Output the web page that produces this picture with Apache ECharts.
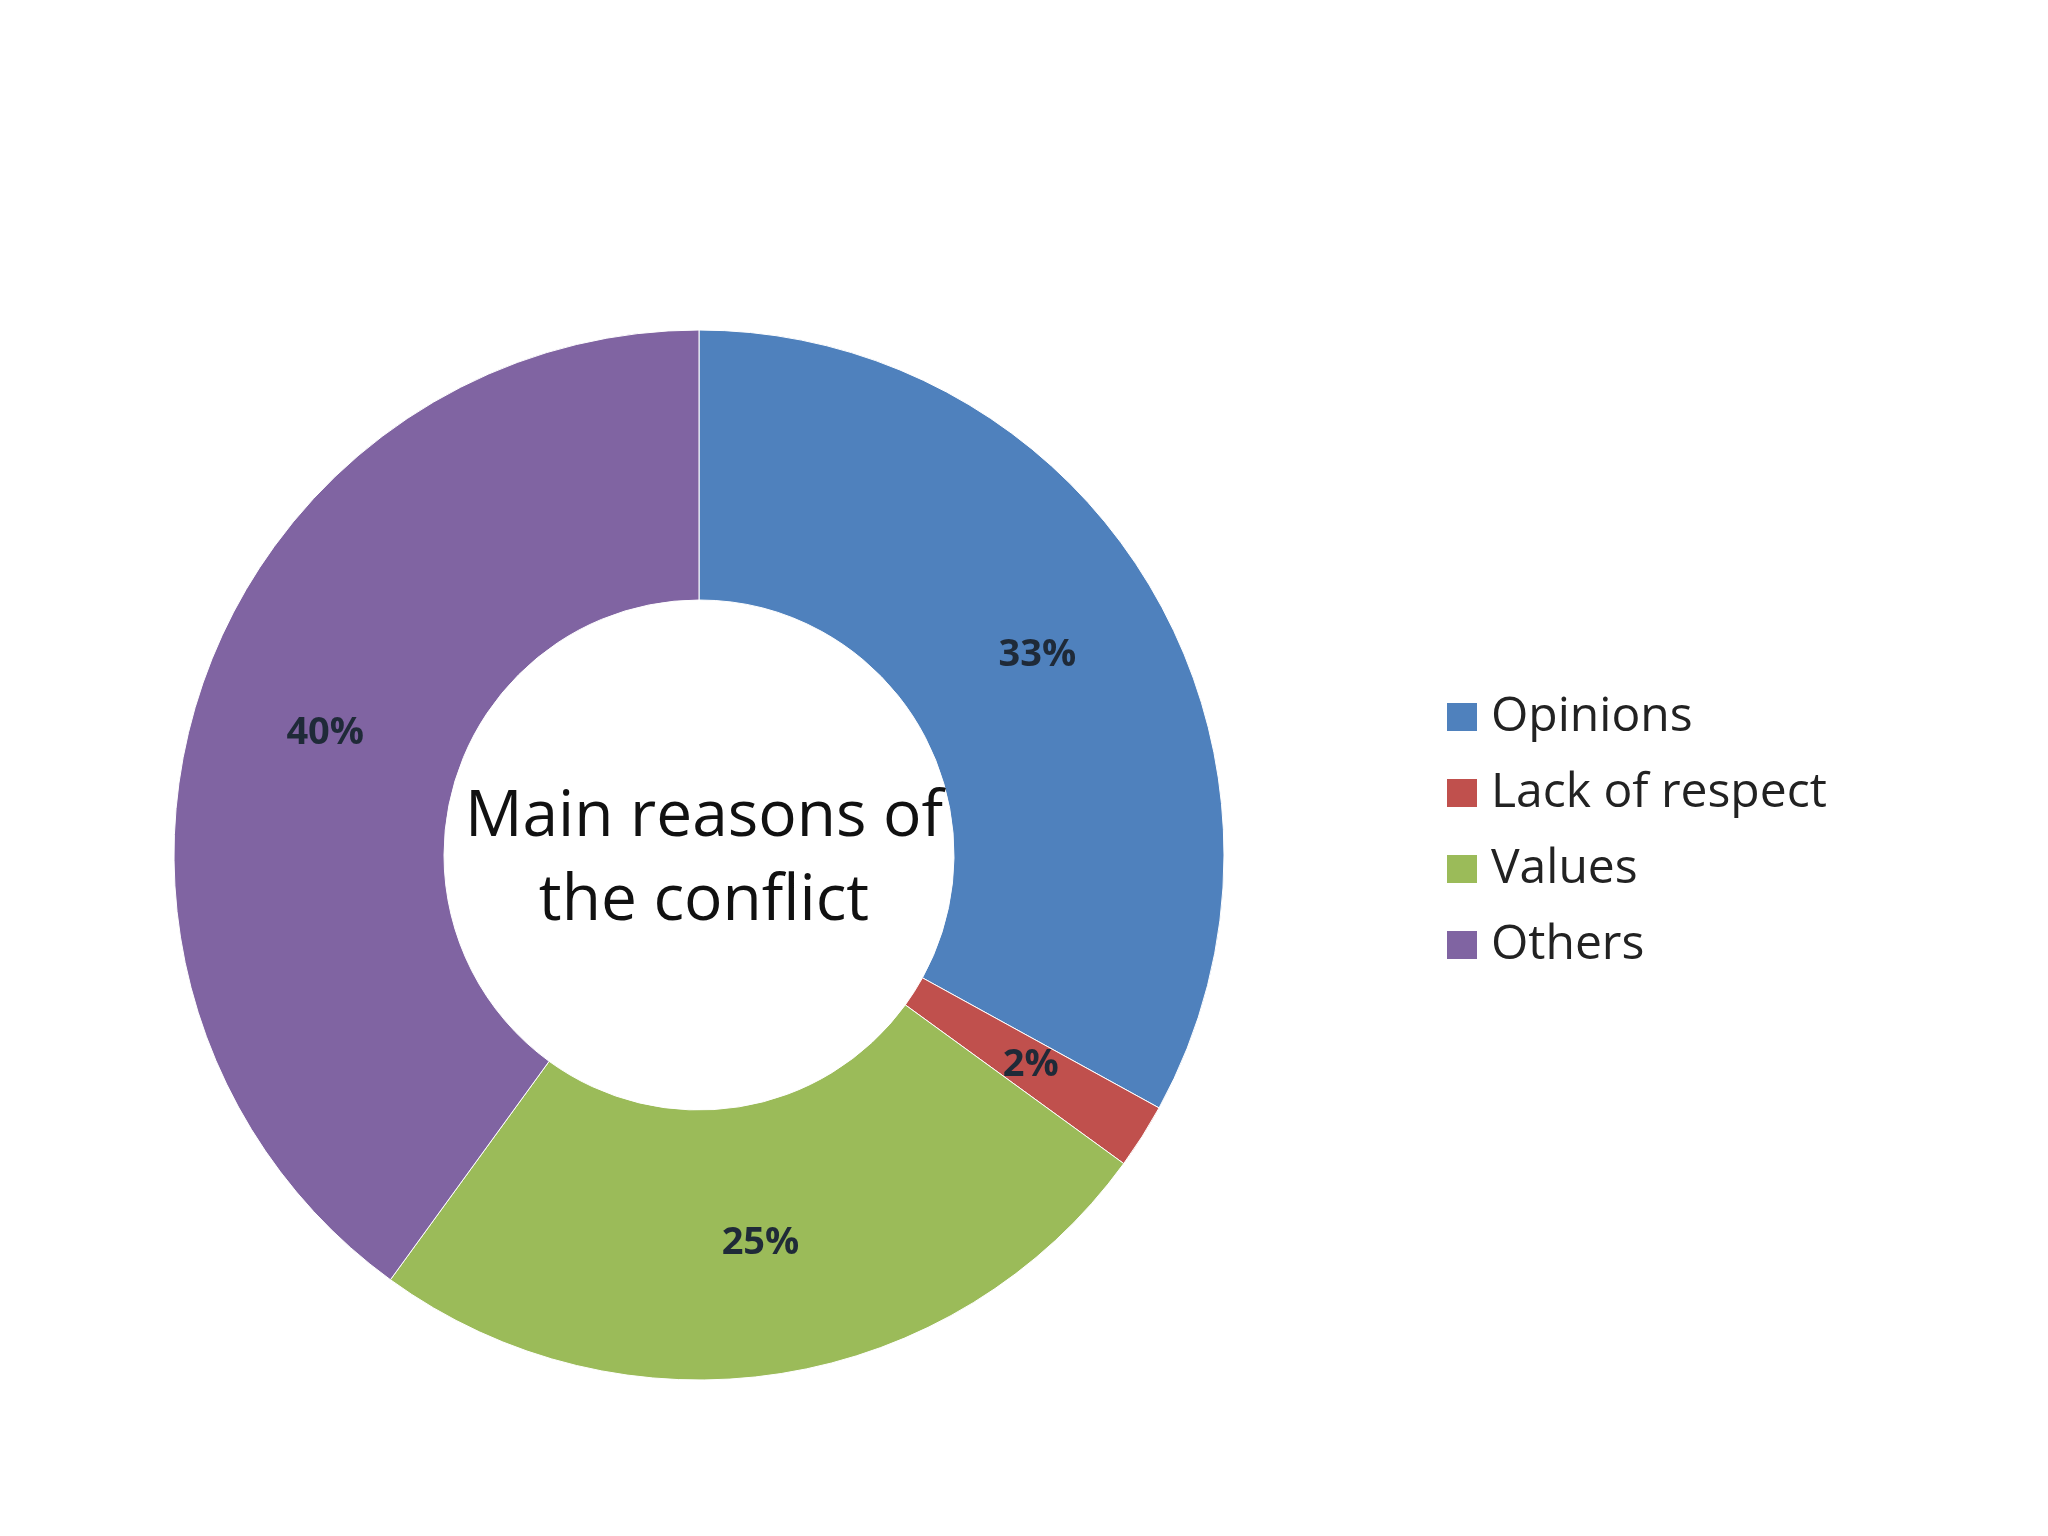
<!DOCTYPE html>
<html>
<head>
<meta charset="utf-8">
<script src="https://cdn.jsdelivr.net/npm/echarts@6/dist/echarts.min.js"></script>
<style>
html,body{margin:0;padding:0;background:#fff;}
#chart{width:2048px;height:1536px;}
</style>
</head>
<body>
<div id="chart"></div>
<script>
// data
const categories = ['Opinions', 'Lack of respect', 'Values', 'Others'];
const shares = [33, 2, 25, 40];
const colors = ['#4F81BD', '#C0504D', '#9BBB59', '#8064A2'];

const chart = echarts.init(document.getElementById('chart'));
chart.setOption({
	backgroundColor: '#ffffff',
	color: colors,
	title: {
		text: 'Main reasons of\nthe conflict',
		left: 699, top: 855, textAlign: 'center', textVerticalAlign: 'middle',
		textStyle: {fontFamily: 'Open Sans', fontSize: 64, fontWeight: 'normal', color: '#111', lineHeight: 84}
	},
	legend: {
		orient: 'vertical', left: 1440, top: 688,
		itemWidth: 32, itemHeight: 30, itemGap: 28,
		icon: 'rect',
		textStyle: {fontFamily: 'Open Sans', fontSize: 48, color: '#222', padding: [0, 0, 0, 8]},
		data: categories
	},
	series: [{
		type: 'pie',
		center: [699, 855],
		radius: [255, 525],
		startAngle: 90,
		clockwise: true,
		silent: true,
		label: {
			position: 'inside',
			formatter: '{c}%',
			fontFamily: 'Open Sans', fontSize: 38, fontWeight: 'bold', color: '#1f2a38'
		},
		labelLine: {show: false},
		itemStyle: {borderColor: '#fff', borderWidth: 1},
		data: categories.map((n, i) => ({name: n, value: shares[i]}))
	}]
});
</script>
</body>
</html>
